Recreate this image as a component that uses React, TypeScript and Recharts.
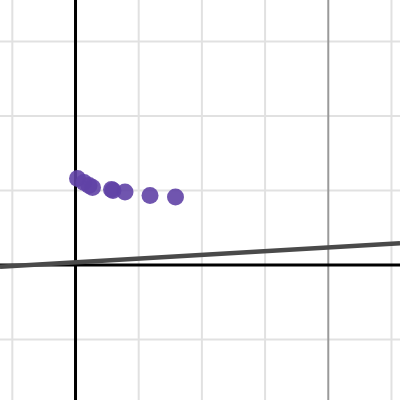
import {
  ComposedChart,
  ReferenceLine,
  Scatter,
  XAxis,
  YAxis,
} from "recharts";

// visible window, in grid units
const xDomain = [-1.195, 5.135];
const yDomain = [-1.812, 3.557];

const minorX = [-1, 1, 2, 3, 5];
const majorX = [4];
const minorY = [-1, 1, 2, 3];

const pointsX = [0.032, 0.134, 0.214, 0.269, 0.57, 0.593, 0.783, 1.179, 1.582];
const pointsY = [1.161, 1.107, 1.067, 1.04, 1.013, 1.0, 0.98, 0.933, 0.913];

const fitX = [-1.195, 5.135];
const fitY = [-0.023, 0.291];

const points = pointsX.map((x, i) => ({ x, y: pointsY[i] }));
const fitLine = fitX.map((x, i) => ({ x, y: fitY[i] }));

export default function App() {
  return (
    <div style={{ position: "absolute", left: 0, top: 0, width: 400, height: 400, background: "#fff" }}>
      <ComposedChart
        width={400}
        height={400}
        margin={{ top: 0, right: 0, bottom: 0, left: 0 }}
      >
        <XAxis
          type="number"
          dataKey="x"
          domain={xDomain}
          allowDataOverflow
          hide
        />
        <YAxis
          type="number"
          dataKey="y"
          domain={yDomain}
          allowDataOverflow
          hide
        />
        {minorX.map((v) => (
          <ReferenceLine key={`mx${v}`} x={v} stroke="#e1e1e1" strokeWidth={2} />
        ))}
        {minorY.map((v) => (
          <ReferenceLine key={`my${v}`} y={v} stroke="#e1e1e1" strokeWidth={2} />
        ))}
        {majorX.map((v) => (
          <ReferenceLine key={`Mx${v}`} x={v} stroke="#9a9a9a" strokeWidth={2} />
        ))}
        <ReferenceLine x={0} stroke="#000" strokeWidth={3} />
        <ReferenceLine y={0} stroke="#000" strokeWidth={3} />
        <Scatter
          data={fitLine}
          line={{ stroke: "#4a4a4a", strokeWidth: 4.5 }}
          shape={() => null}
          isAnimationActive={false}
        />
        <Scatter
          data={points}
          fill="#6042a6"
          fillOpacity={0.9}
          shape={(p: any) => (
            <circle cx={p.cx} cy={p.cy} r={8.5} fill="#6042a6" fillOpacity={0.9} />
          )}
          isAnimationActive={false}
        />
      </ComposedChart>
    </div>
  );
}
